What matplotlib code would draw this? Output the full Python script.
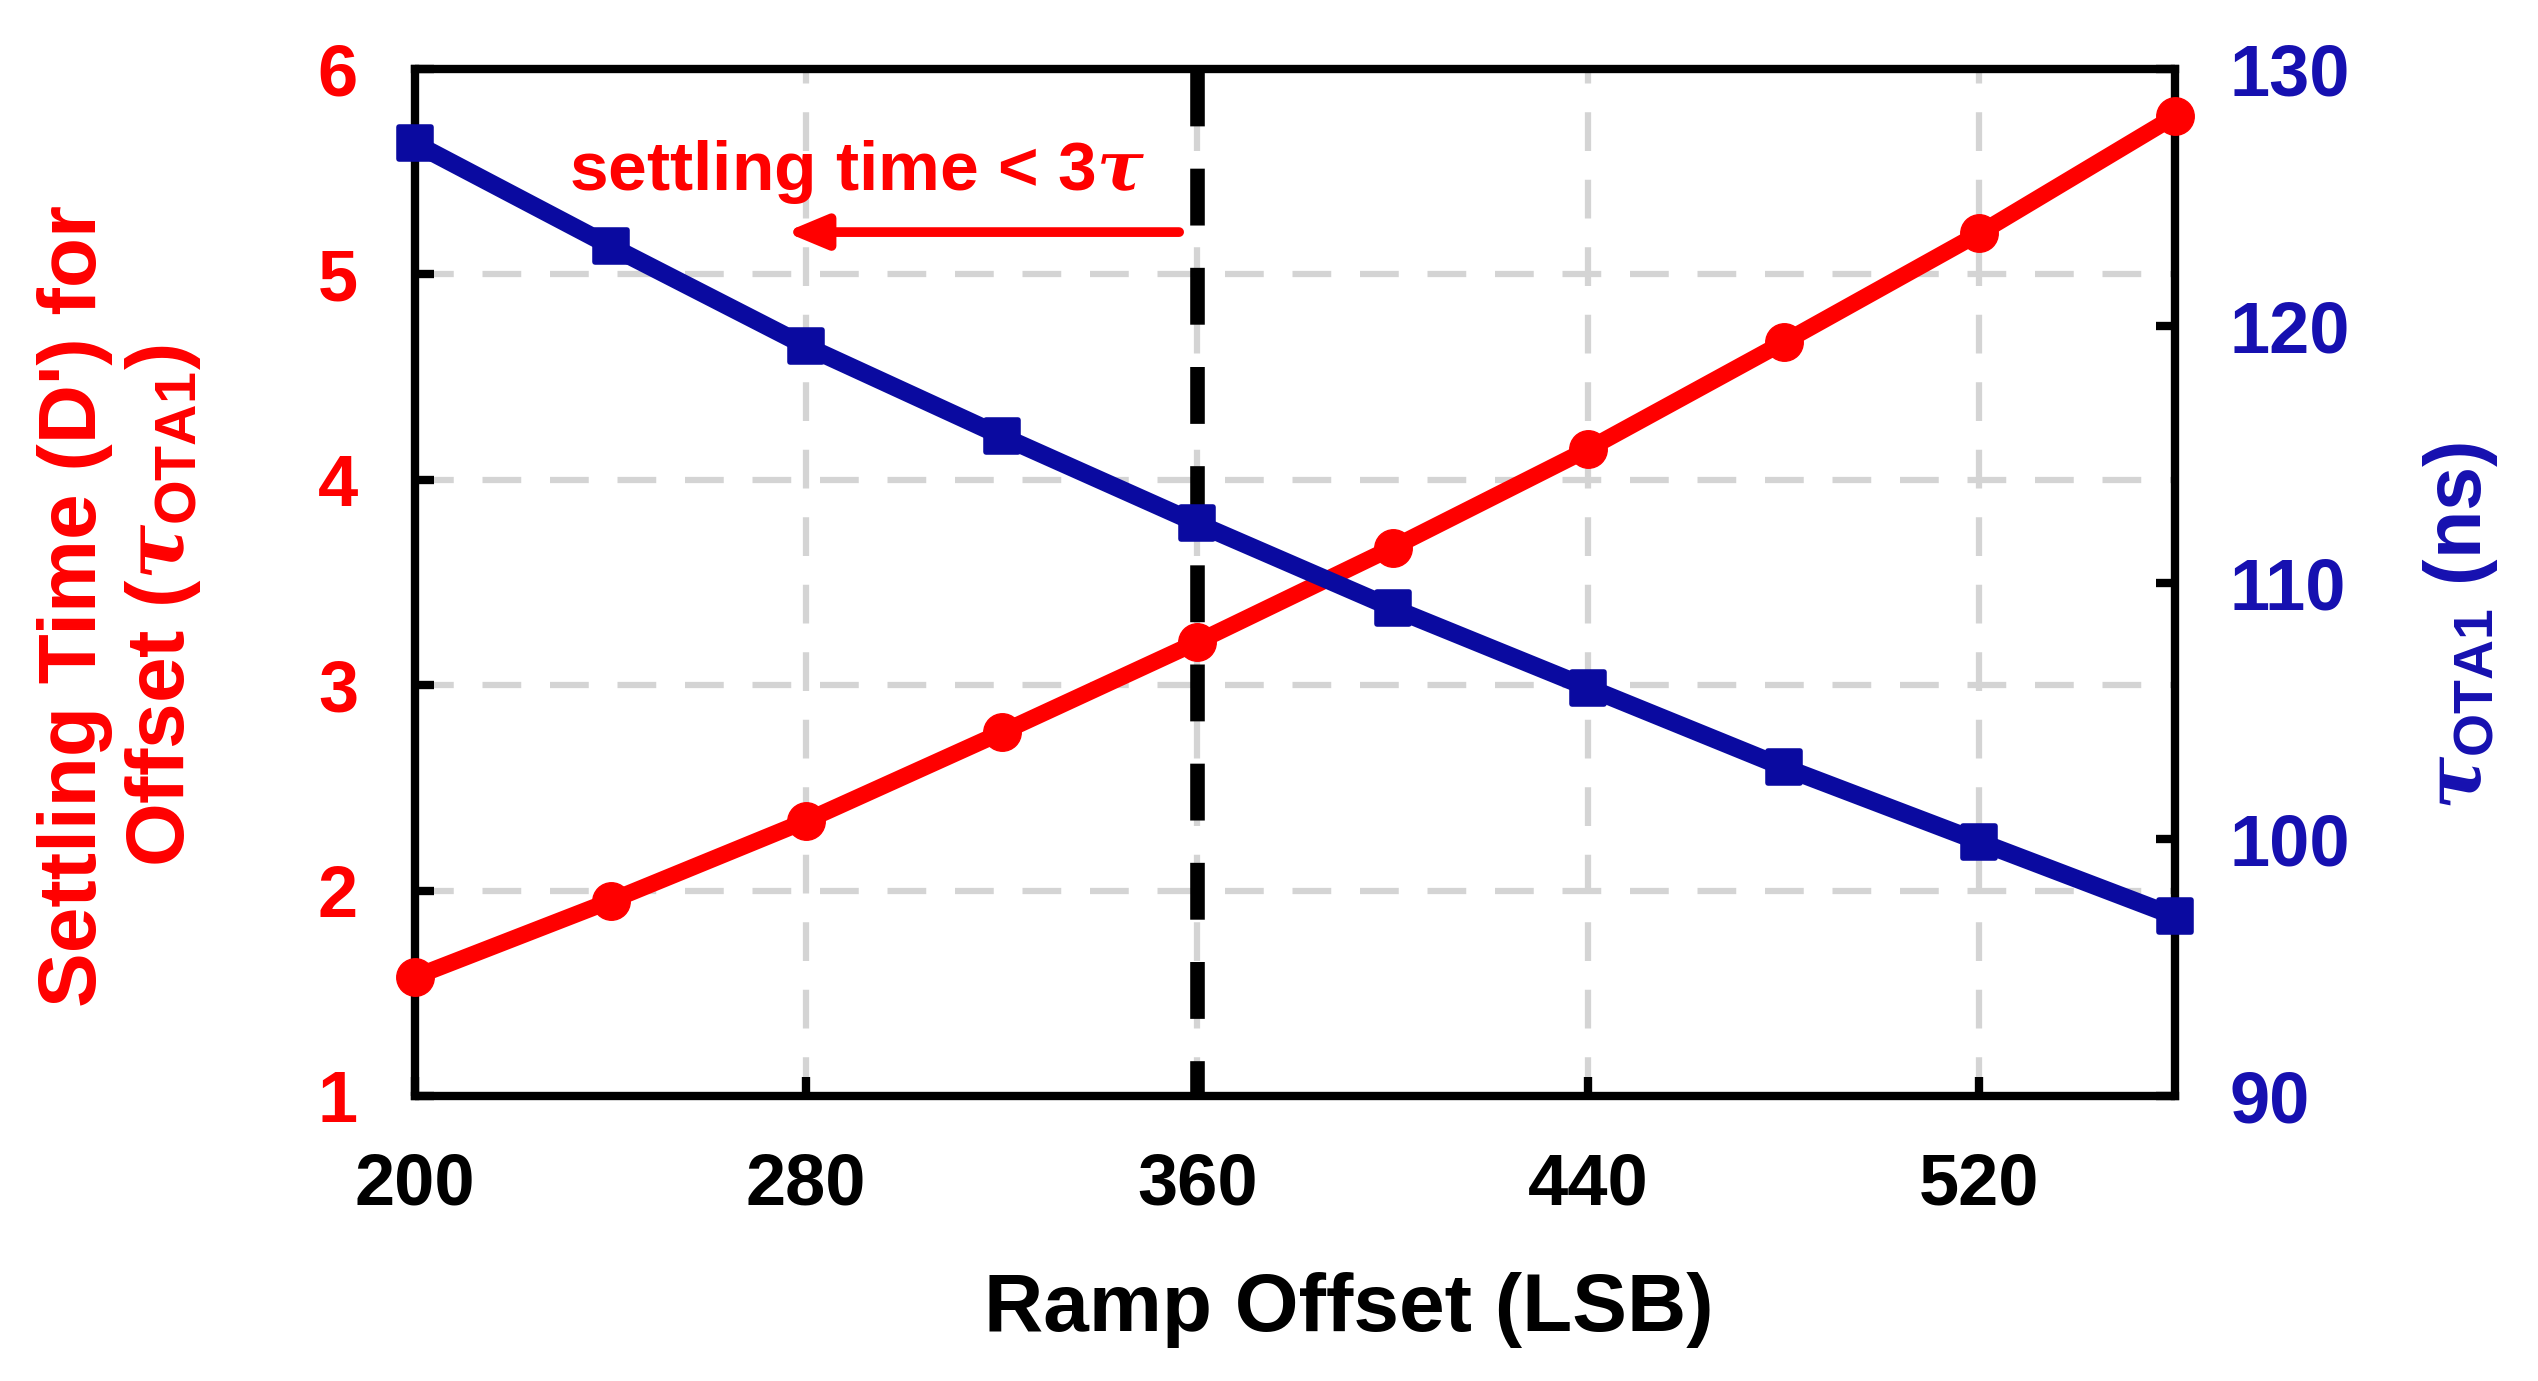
import matplotlib
matplotlib.use("Agg")
import matplotlib.pyplot as plt
from matplotlib.markers import MarkerStyle

plt.rcParams['font.family'] = ['Liberation Sans', 'DejaVu Sans']
plt.rcParams['font.weight'] = 'bold'
plt.rcParams['mathtext.fontset'] = 'custom'
plt.rcParams['mathtext.it'] = 'DejaVu Serif:italic'
plt.rcParams['mathtext.rm'] = 'Liberation Sans:bold'
plt.rcParams['mathtext.bf'] = 'Liberation Sans:bold'

# ---- data ----
ramp_offset = [200, 240, 280, 320, 360, 400, 440, 480, 520, 560]
settling_time = [1.58, 1.95, 2.34, 2.77, 3.21, 3.67, 4.15, 4.67, 5.20, 5.77]
tau_ota1 = [127.1, 123.1, 119.2, 115.7, 112.3, 109.0, 105.9, 102.8, 99.9, 97.0]
x_ticks = [200, 280, 360, 440, 520]
left_ticks = [1, 2, 3, 4, 5, 6]
right_ticks = [90, 100, 110, 120, 130]
threshold_x = 360

RED = '#ff0000'
BLUE = '#0a0aa0'
BLUE_TXT = '#1610b0'
GRID = '#d4d4d4'

W, H = 2538, 1381
fig = plt.figure(figsize=(W / 100, H / 100), dpi=100)
L, R, T, B = 415, 2175, 69, 1096
ax = fig.add_axes([L / W, 1 - B / H, (R - L) / W, (B - T) / H])
ax2 = ax.twinx()

ax.set_xlim(200, 560)
ax.set_ylim(1, 6)
ax2.set_ylim(90, 130)

# grid
glw = 4.5
ax.set_xticks(x_ticks)
ax.set_yticks(left_ticks)
ax.grid(True, color=GRID, linewidth=glw, linestyle=(0, (6.2, 4.6)), zorder=0)
ax.set_axisbelow(True)

# threshold line
ax.plot([threshold_x, threshold_x], [6, 1], color='black', linewidth=10.5,
        linestyle=(0, (3.9, 2.9)), zorder=2)

# red series
ax.plot(ramp_offset, settling_time, color=RED, linewidth=12,
        marker='o', markersize=27, markeredgewidth=1, zorder=3, clip_on=False)

# blue series
sq = MarkerStyle('s', joinstyle='round')
ax2.plot(ramp_offset, tau_ota1, color=BLUE, linewidth=13,
         marker=sq, markersize=23, markeredgewidth=4, zorder=3, clip_on=False)

# annotation
ax.text(290.5, 5.41, 'settling time < 3$\\tau$', color=RED, fontsize=50,
        fontweight='bold', ha='center', va='baseline', zorder=5)
ax.annotate('', xy=(275.8, 5.206), xytext=(356.3, 5.206),
            arrowprops=dict(arrowstyle='-|>,head_length=24,head_width=10',
                            mutation_scale=1, color=RED, lw=7,
                            shrinkA=0, shrinkB=0), zorder=5)

# spines: draw once on the lower axes, below the data
for s in ax.spines.values():
    s.set_linewidth(6)
    s.set_color('black')
    s.set_zorder(2.5)
for s in ax2.spines.values():
    s.set_visible(False)

ax.tick_params(axis='x', direction='in', length=14, width=6, pad=40,
               labelsize=52, colors='black', top=False)
ax.tick_params(axis='y', direction='in', length=14, width=6, pad=41,
               labelsize=52, labelcolor=RED, right=False, color='black')
ax2.set_yticks(right_ticks)
ax2.tick_params(axis='y', direction='in', length=14, width=6, pad=39,
                labelsize=52, labelcolor=BLUE_TXT, color='black')
for lbl in ax.get_xticklabels() + ax.get_yticklabels() + ax2.get_yticklabels():
    lbl.set_fontweight('bold')

# labels
fig.text(1349 / W, 1 - 1310 / H, 'Ramp Offset (LSB)', fontsize=59,
         fontweight='bold', ha='center', va='center', color='black')
fig.text(120 / W, 1 - 606 / H, "Settling Time (D') for\nOffset ($\\tau_{\\mathbf{OTA1}}$)",
         fontsize=59, fontweight='bold', ha='center', va='center', color=RED,
         rotation=90, multialignment='center', linespacing=1.15)
fig.text(2460 / W, 1 - 626 / H, "$\\tau_{\\mathbf{OTA1}}$ (ns)", fontsize=57,
         fontweight='bold', ha='center', va='center', color=BLUE_TXT, rotation=90)

fig.savefig('out.png', dpi=100, facecolor='white')
